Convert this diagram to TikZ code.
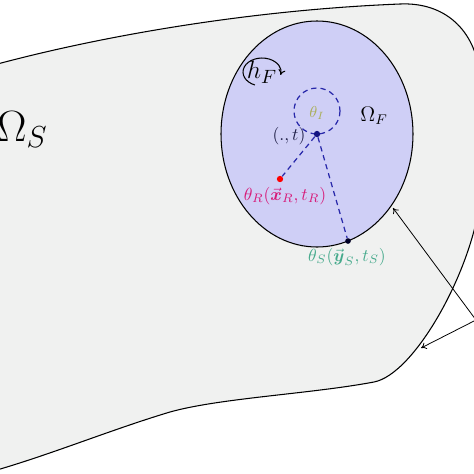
\documentclass[tikz,border=0pt]{standalone}
\usepackage{amsmath,amssymb}
\usetikzlibrary{arrows.meta}
\definecolor{outerfill}{RGB}{240,241,240}
\definecolor{innerfill}{RGB}{207,207,246}
\definecolor{dashblue}{RGB}{40,40,170}
\definecolor{dotblue}{RGB}{20,20,130}
\definecolor{rcol}{RGB}{215,25,120}
\definecolor{scol}{RGB}{70,170,140}
\definecolor{icol}{RGB}{170,175,90}
\definecolor{tcol}{RGB}{30,30,70}
\tikzset{
  dashline/.style={dashblue, line width=0.7pt, dash pattern=on 3pt off 2.3pt},
  dotnode/.style={circle, inner sep=0pt, minimum size=3.6pt},
  thinarrow/.style={line width=0.45pt, -{To[length=3pt,width=4pt]}},
  boundary/.style={line width=0.6pt, draw=black}
}
\begin{document}
\begin{tikzpicture}[x=0.02cm,y=-0.02cm]
\useasboundingbox (0,0) rectangle (474,474);
\begin{scope}
\clip (0,0) rectangle (474,474);
\draw[boundary, fill=outerfill] (-10,66) .. controls (100,36) and (250,10) .. (400,4)
  .. controls (445,2) and (475,30) .. (480,75) -- (480,200)
  .. controls (472,270) and (415,374) .. (374,382)
  .. controls (310,394) and (220,398) .. (170,412)
  .. controls (110,430) and (50,455) .. (-10,472) -- cycle;
\end{scope}
% inner domain
\draw[boundary, fill=innerfill] (317,134) ellipse [x radius=96, y radius=113];
% dashed circle
\draw[dashline] (317,111) circle [radius=23];
% points
\node[dotnode, fill=dotblue] (c) at (317,134) {};
\node[dotnode, fill=red] (r) at (280,179) {};
\node[dotnode, fill=black!85!blue, minimum size=3.2pt] (s) at (348,241) {};
\draw[dashline] (c) -- (r);
\draw[dashline] (c) -- (s);
% labels
\node[font=\fontsize{23}{28}\selectfont, anchor=base west, inner sep=0pt] (os) at (-3,141) {$\Omega_S$};
\node[font=\large] (of) at (374,116) {$\Omega_F$};
\node[font=\fontsize{15}{18}\selectfont] (hf) at (262,72) {$h_F$};
\node[text=icol, font=\small] (ti) at (317,113) {$\theta_I$};
\node[text=tcol] (tl) at (289,136) {$(.,t)$};
\node[text=rcol, anchor=north, inner sep=1pt] (tr) at (285,185) {$\theta_R(\vec{\boldsymbol{x}}_R,t_R)$};
\node[text=scol, anchor=north, inner sep=1pt] (ts) at (347,246) {$\theta_S(\vec{\boldsymbol{y}}_S,t_S)$};
% rotation arrow around h_F
\coordinate (hstart) at (254.9,85);
\draw[line width=0.6pt, -{To[length=3pt,width=4pt]}] (hstart) arc [start angle=112, end angle=372, x radius=19, y radius=14];
% pointer arrows
\coordinate (p) at (476,320);
\coordinate (e1) at (393,208);
\coordinate (e2) at (421,348);
\draw[thinarrow] (p) -- (e1);
\draw[thinarrow] (p) -- (e2);
\end{tikzpicture}
\end{document}
